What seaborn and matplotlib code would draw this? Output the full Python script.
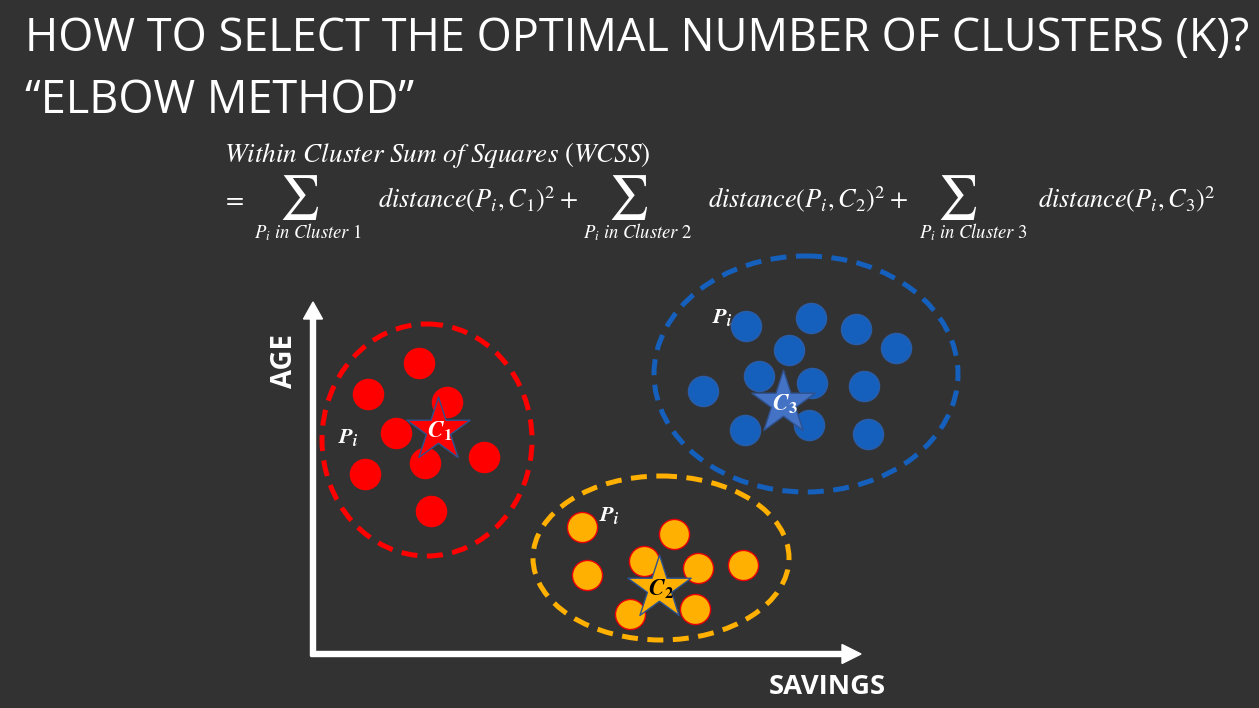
import numpy as np
import pandas as pd
import matplotlib
matplotlib.use('Agg')
import matplotlib.pyplot as plt
import seaborn as sns
from matplotlib.patches import Ellipse, FancyArrow

# cluster points (pixel positions)
red_x = [419, 368, 447, 396, 425, 484, 365, 431]
red_y = [363, 394, 402, 433, 463, 457, 474, 511]
orange_x = [582, 674, 644, 587, 698, 743, 630, 695]
orange_y = [527, 534, 561, 575, 568, 565, 614, 609]
blue_x = [746, 811, 856, 896, 789, 759, 812, 864, 703, 745, 809, 868]
blue_y = [326, 318, 329, 348, 350, 376, 383, 386, 391, 430, 425, 434]

# centroids
cent_x = [438, 659, 783]
cent_y = [430, 588, 403]
cent_labels = [r'$\mathbfit{C}_{\mathbf{1}}$', r'$\mathbfit{C}_{\mathbf{2}}$', r'$\mathbfit{C}_{\mathbf{3}}$']

BG = '#323232'
RED = '#FF0000'
ORANGE = '#FFB000'
BLUE = '#1560BD'
STAR_BLUE = '#4472C4'
EDGE = '#2F528F'

sns.set_theme(style='white')
plt.rcParams['mathtext.fontset'] = 'stix'

fig = plt.figure(figsize=(12.59, 7.08), dpi=100)
fig.patch.set_facecolor(BG)
ax = fig.add_axes([0, 0, 1, 1])
ax.set_facecolor(BG)
ax.set_xlim(0, 1259)
ax.set_ylim(708, 0)
ax.axis('off')

# title
title_font = dict(family='Open Sans', color='white', fontsize=32.5)
ax.text(25, 39, 'HOW TO SELECT THE OPTIMAL NUMBER OF CLUSTERS (K)?', va='center', ha='left', **title_font)
ax.text(25, 101, '\u201cELBOW METHOD\u201d', va='center', ha='left', **title_font)

# formula
fc = dict(color='white', va='center', ha='left')
ax.text(224, 155, r'$Within\ Cluster\ Sum\ of\ Squares\ (WCSS)$', fontsize=19.5, **fc)
ax.text(222, 199, r'$=$', fontsize=19, **fc)
sum_x = [299, 628, 957]
sub_x = [308, 638, 973]
dist_x = [378, 708, 1038]
dist_txt = [r'$distance(P_i,C_1)^2+$', r'$distance(P_i,C_2)^2+$', r'$distance(P_i,C_3)^2$']
for k in range(3):
    ax.text(sum_x[k], 197, r'$\sum$', fontsize=32, color='white', ha='center', va='center')
    ax.text(sub_x[k], 232, r'$P_i\ in\ Cluster\ %d$' % (k + 1), fontsize=13.4, color='white', ha='center', va='center')
    ax.text(dist_x[k], 199, dist_txt[k], fontsize=19, **fc)

# cluster boundaries
ell = [((427, 440), 210, 232, RED), ((661, 558), 256, 164, ORANGE), ((806, 374), 304, 236, BLUE)]
for c, w, h, col in ell:
    ax.add_patch(Ellipse(c, w, h, fill=False, edgecolor=col, lw=3.6, linestyle=(0, (3.2, 1.9)), zorder=2))

# axes arrows
ax.add_patch(FancyArrow(313, 656, 0, -337, width=5, head_width=19, head_length=17,
                        length_includes_head=False, color='white', zorder=3))
ax.add_patch(FancyArrow(311, 654, 531, 0, width=5, head_width=19, head_length=19,
                        length_includes_head=False, color='white', zorder=3))
ax.text(285, 361, 'AGE', rotation=90, family='Open Sans', fontweight='bold', fontsize=19.8,
        color='white', ha='center', va='center')
ax.text(827, 687, 'SAVINGS', family='Open Sans', fontweight='bold', fontsize=19.7,
        color='white', ha='center', va='center')

# points
pts = pd.concat([
    pd.DataFrame({'x': red_x, 'y': red_y, 'cluster': 'red'}),
    pd.DataFrame({'x': orange_x, 'y': orange_y, 'cluster': 'orange'}),
    pd.DataFrame({'x': blue_x, 'y': blue_y, 'cluster': 'blue'}),
])
face = {'red': RED, 'orange': ORANGE, 'blue': BLUE}
edge = {'red': RED, 'orange': '#E8000B', 'blue': '#2A5DA8'}
for name, d in pts.groupby('cluster', sort=False):
    sns.scatterplot(data=d, x='x', y='y', ax=ax, s=470, color=face[name],
                    edgecolor=edge[name], linewidth=1.0, zorder=4, legend=False)

star_col = [RED, ORANGE, STAR_BLUE]
for i in range(3):
    sns.scatterplot(x=[cent_x[i]], y=[cent_y[i]], ax=ax, marker='*', s=2300,
                    color=star_col[i], edgecolor=EDGE, linewidth=1.0, zorder=5, legend=False)
lab_col = ['white', 'black', 'white']
for i in range(3):
    ax.text(cent_x[i] + 2, cent_y[i] + 1, cent_labels[i], color=lab_col[i], fontsize=17,
            ha='center', va='center', zorder=6)

# P_i labels
pi_x = [348, 609, 722]
pi_y = [437, 515, 317]
for x, y in zip(pi_x, pi_y):
    ax.text(x, y, r'$\mathbfit{P}_{\mathbfit{i}}$', color='white', fontsize=16,
            ha='center', va='center', zorder=6)

ax.set_xlabel('')
ax.set_ylabel('')
fig.savefig('out.png', dpi=100, facecolor=BG)
